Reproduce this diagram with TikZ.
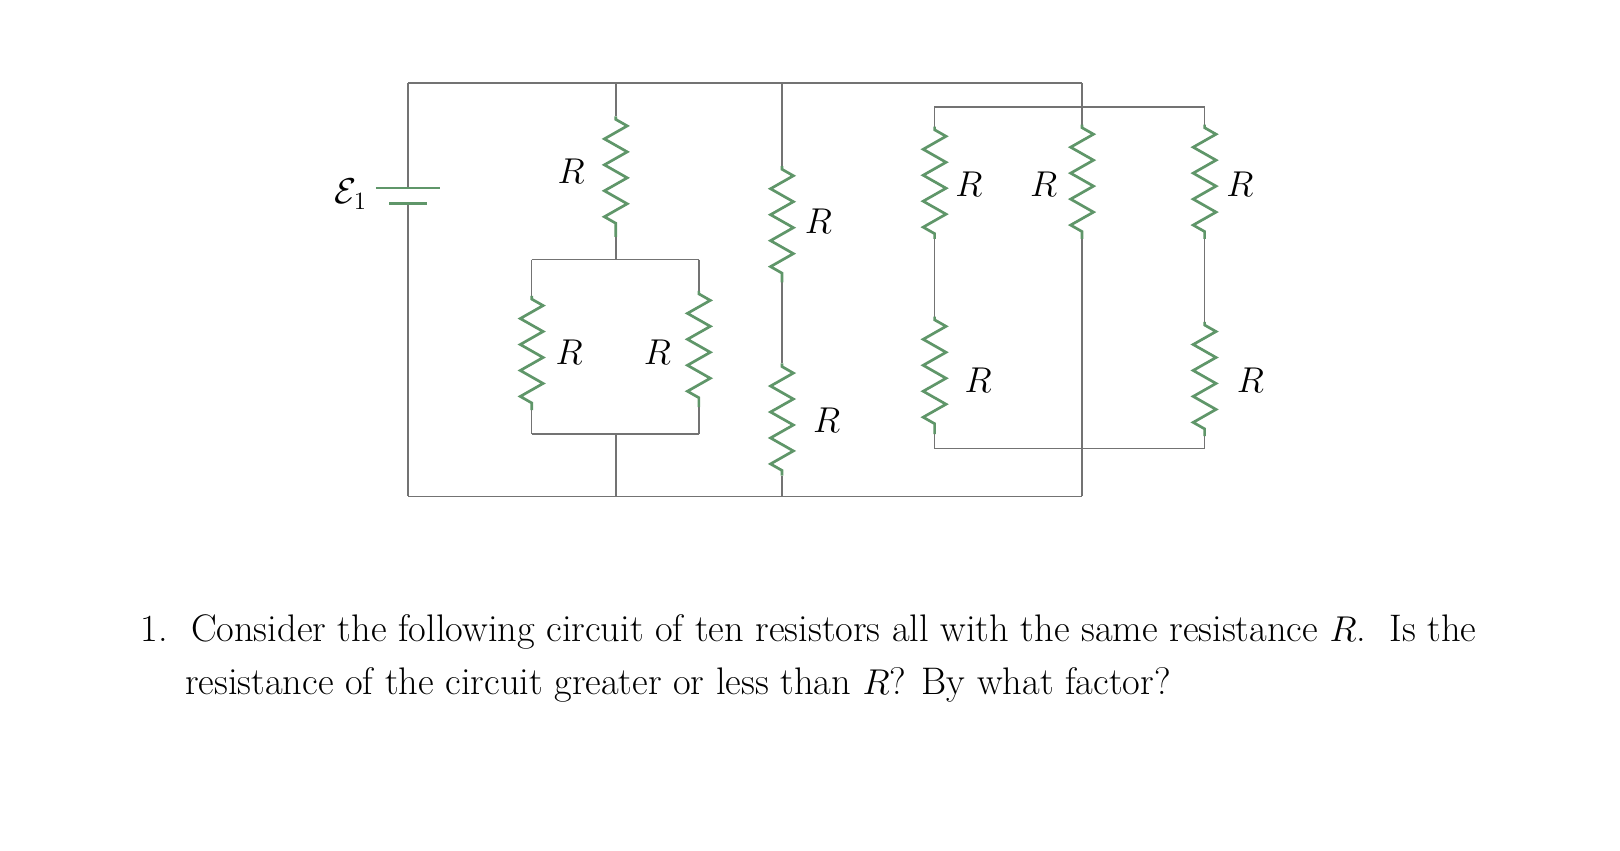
\documentclass[tikz,border=0pt]{standalone}
\usetikzlibrary{decorations.pathmorphing}
\begin{document}
\begin{tikzpicture}[x=0.5pt,y=-0.5pt,
  wire/.style={draw=black!55,line width=0.7pt},
  res/.style={draw={rgb,255:red,95;green,150;blue,105},line width=1.3pt,decorate,
    decoration={zigzag,amplitude=5.5pt,segment length=12.5pt,pre length=1.5pt,post length=1.5pt}},
  lab/.style={font=\fontsize{17}{20}\selectfont}]
\useasboundingbox (0,0) rectangle (1560,818.6);
% corners
\coordinate (TL) at (393,80); \coordinate (BL) at (393,478);
\coordinate (T2) at (593,80); \coordinate (T3) at (753,80); \coordinate (TR) at (1042,80);
\coordinate (B2) at (593,478); \coordinate (B3) at (753,478); \coordinate (BR) at (1042,478);
% battery
\coordinate (bt) at (393,181); \coordinate (bb) at (393,196);
\draw[wire] (TL) -- (bt); \draw[wire] (bb) -- (BL);
\draw[draw={rgb,255:red,95;green,150;blue,105},line width=1.3pt] (362,181) -- (424,181) (375,196) -- (411,196);
\node[lab] (E) at (338,187) {$\mathcal{E}_1$};
\draw[wire] (TL) -- (TR) (BL) -- (BR);
% column 2
\coordinate (r1a) at (593,112); \coordinate (r1b) at (593,228);
\draw[wire] (T2) -- (r1a); \draw[res] (r1a) -- (r1b);
\coordinate (m2) at (593,250); \draw[wire] (r1b) -- (m2);
\coordinate (p1) at (512,250); \coordinate (p2) at (673,250);
\coordinate (q1) at (512,418); \coordinate (q2) at (673,418); \coordinate (n2) at (593,418);
\draw[wire] (p1) -- (p2);
\coordinate (r2a) at (512,285); \coordinate (r2b) at (512,395);
\coordinate (r3a) at (673,280); \coordinate (r3b) at (673,392);
\draw[wire] (p1) -- (r2a) (r2b) -- (q1) (p2) -- (r3a) (r3b) -- (q2) (q1) -- (q2) (n2) -- (B2);
\draw[res] (r2a) -- (r2b); \draw[res] (r3a) -- (r3b);
% column 3
\coordinate (r4a) at (753,160); \coordinate (r4b) at (753,272);
\coordinate (r5a) at (753,350); \coordinate (r5b) at (753,458);
\draw[wire] (T3) -- (r4a) (r4b) -- (r5a) (r5b) -- (B3);
\draw[res] (r4a) -- (r4b); \draw[res] (r5a) -- (r5b);
% column 4
\coordinate (r6a) at (1042,120); \coordinate (r6b) at (1042,230);
\draw[wire] (TR) -- (r6a) (r6b) -- (BR);
\draw[res] (r6a) -- (r6b);
% inner loop
\coordinate (U1) at (900,103); \coordinate (U2) at (1160,103);
\coordinate (D1) at (900,432); \coordinate (D2) at (1160,432);
\coordinate (r7a) at (900,122); \coordinate (r7b) at (900,230);
\coordinate (r8a) at (900,305); \coordinate (r8b) at (900,418);
\coordinate (r9a) at (1160,120); \coordinate (r9b) at (1160,230);
\coordinate (r10a) at (1160,310); \coordinate (r10b) at (1160,420);
\draw[wire] (r7a) -- (U1) -- (U2) -- (r9a) (r7b) -- (r8a) (r8b) -- (D1) -- (D2) -- (r10b) (r9b) -- (r10a);
\draw[res] (r7a) -- (r7b); \draw[res] (r8a) -- (r8b);
\draw[res] (r9a) -- (r9b); \draw[res] (r10a) -- (r10b);
% labels
\node[lab] (l1) at (550,165) {$R$};
\node[lab] (l2) at (548,339) {$R$};
\node[lab] (l3) at (633,339) {$R$};
\node[lab] (l4) at (788,213) {$R$};
\node[lab] (l5) at (796,405) {$R$};
\node[lab] (l6) at (933,177) {$R$};
\node[lab] (l7) at (1005,177) {$R$};
\node[lab] (l8) at (1194,177) {$R$};
\node[lab] (l9) at (942,366) {$R$};
\node[lab] (l10) at (1204,366) {$R$};
% text
\node[anchor=west,font=\fontsize{18.5}{25}\selectfont,inner sep=0pt] (t1) at (135,609) {1.\ \ Consider the following circuit of ten resistors all with the same resistance $R$.\ \ Is the};
\node[anchor=west,font=\fontsize{18.5}{25}\selectfont,inner sep=0pt] (t2) at (178,660) {resistance of the circuit greater or less than $R$? By what factor?};
\end{tikzpicture}
\end{document}
